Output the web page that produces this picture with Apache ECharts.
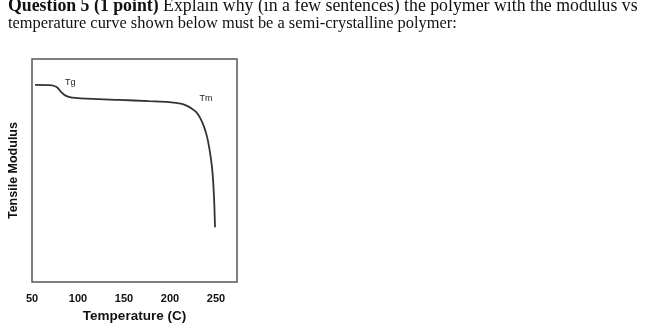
<!DOCTYPE html>
<html><head><meta charset="utf-8">
<script src="https://cdn.jsdelivr.net/npm/echarts@6/dist/echarts.min.js"></script>
<style>html,body{margin:0;padding:0;background:#fff}#c{width:646px;height:328px}</style>
</head><body><div id="c"></div>
<script>
const temperature = [53.3, 71.7, 77.2, 81.5, 85.9, 93.5, 122.8, 144.6, 177.2, 198.9, 213.0, 218.5, 223.9, 228.3, 232.6, 237.0, 240.2, 242.4, 244.6, 246.2, 247.8, 248.9];
const modulus =     [88.4, 88.2, 87.3, 85.3, 83.7, 82.7, 82.0, 81.7, 81.1, 80.7, 79.9, 79.0, 77.7, 76.3, 73.7, 69.6, 65.2, 60.7, 54.9, 49.1, 38.4, 24.6];
const xTicks = [50, 100, 150, 200, 250];
const annotations = [{name: 'Tg', x: 91.5, y: 89.3}, {name: 'Tm', x: 239, y: 82.1}];
const titleBold = 'Question 5 (1 point)';
const titleRest = ' Explain why (in a few sentences) the polymer with the modulus vs';
const titleLine2 = 'temperature curve shown below must be a semi-crystalline polymer:';

const chart = echarts.init(document.getElementById('c'), null, {renderer: 'canvas'});
chart.setOption({
  animation: false,
  backgroundColor: '#fff',
  title: [{
    text: '{b|' + titleBold + '}{n|' + titleRest + '}',
    left: 8, top: -2.4, padding: 0,
    textStyle: {
      fontWeight: 'normal',
      rich: {
        b: {fontFamily: 'Liberation Serif', fontWeight: 'bold', fontSize: 17.8, color: '#111', lineHeight: 17.8},
        n: {fontFamily: 'Liberation Serif', fontWeight: 'normal', fontSize: 17.8, color: '#111', lineHeight: 17.8}
      }
    }
  }, {
    text: titleLine2,
    left: 8, top: 15.4, padding: 0,
    textStyle: {fontFamily: 'Liberation Serif', fontWeight: 'normal', fontSize: 16.4, color: '#111', lineHeight: 16.4}
  }],
  grid: {left: 32, top: 59, right: 409, bottom: 45, show: true, borderColor: '#555', borderWidth: 1.5, containLabel: false},
  xAxis: {
    type: 'value', min: 50, max: 272.8, interval: 50,
    axisLine: {show: false}, axisTick: {show: false}, splitLine: {show: false},
    axisLabel: {showMaxLabel: false, margin: 11, fontFamily: 'Liberation Sans', fontWeight: 'bold', fontSize: 11, color: '#111',
      formatter: v => xTicks.includes(v) ? String(v) : ''},
    name: 'Temperature (C)', nameLocation: 'middle', nameGap: 24,
    nameTextStyle: {fontFamily: 'Liberation Sans', fontWeight: 'bold', fontSize: 13.5, color: '#111'}
  },
  yAxis: {
    type: 'value', min: 0, max: 100,
    axisLine: {show: false}, axisTick: {show: false}, splitLine: {show: false}, axisLabel: {show: false},
    name: 'Tensile Modulus', nameLocation: 'middle', nameGap: 12,
    nameTextStyle: {fontFamily: 'Liberation Sans', fontWeight: 'bold', fontSize: 12.5, color: '#111'}
  },
  series: [{
    type: 'line', data: temperature.map((t, i) => [t, modulus[i]]),
    smooth: 0.3, showSymbol: false, symbol: 'none',
    lineStyle: {color: '#333', width: 1.8},
    markPoint: {
      symbol: 'circle', symbolSize: 0,
      label: {show: true, position: 'inside', formatter: p => p.name, fontFamily: 'Liberation Sans', fontSize: 9, color: '#222'},
      data: annotations.map(a => ({name: a.name, coord: [a.x, a.y]}))
    }
  }]
});
</script></body></html>
